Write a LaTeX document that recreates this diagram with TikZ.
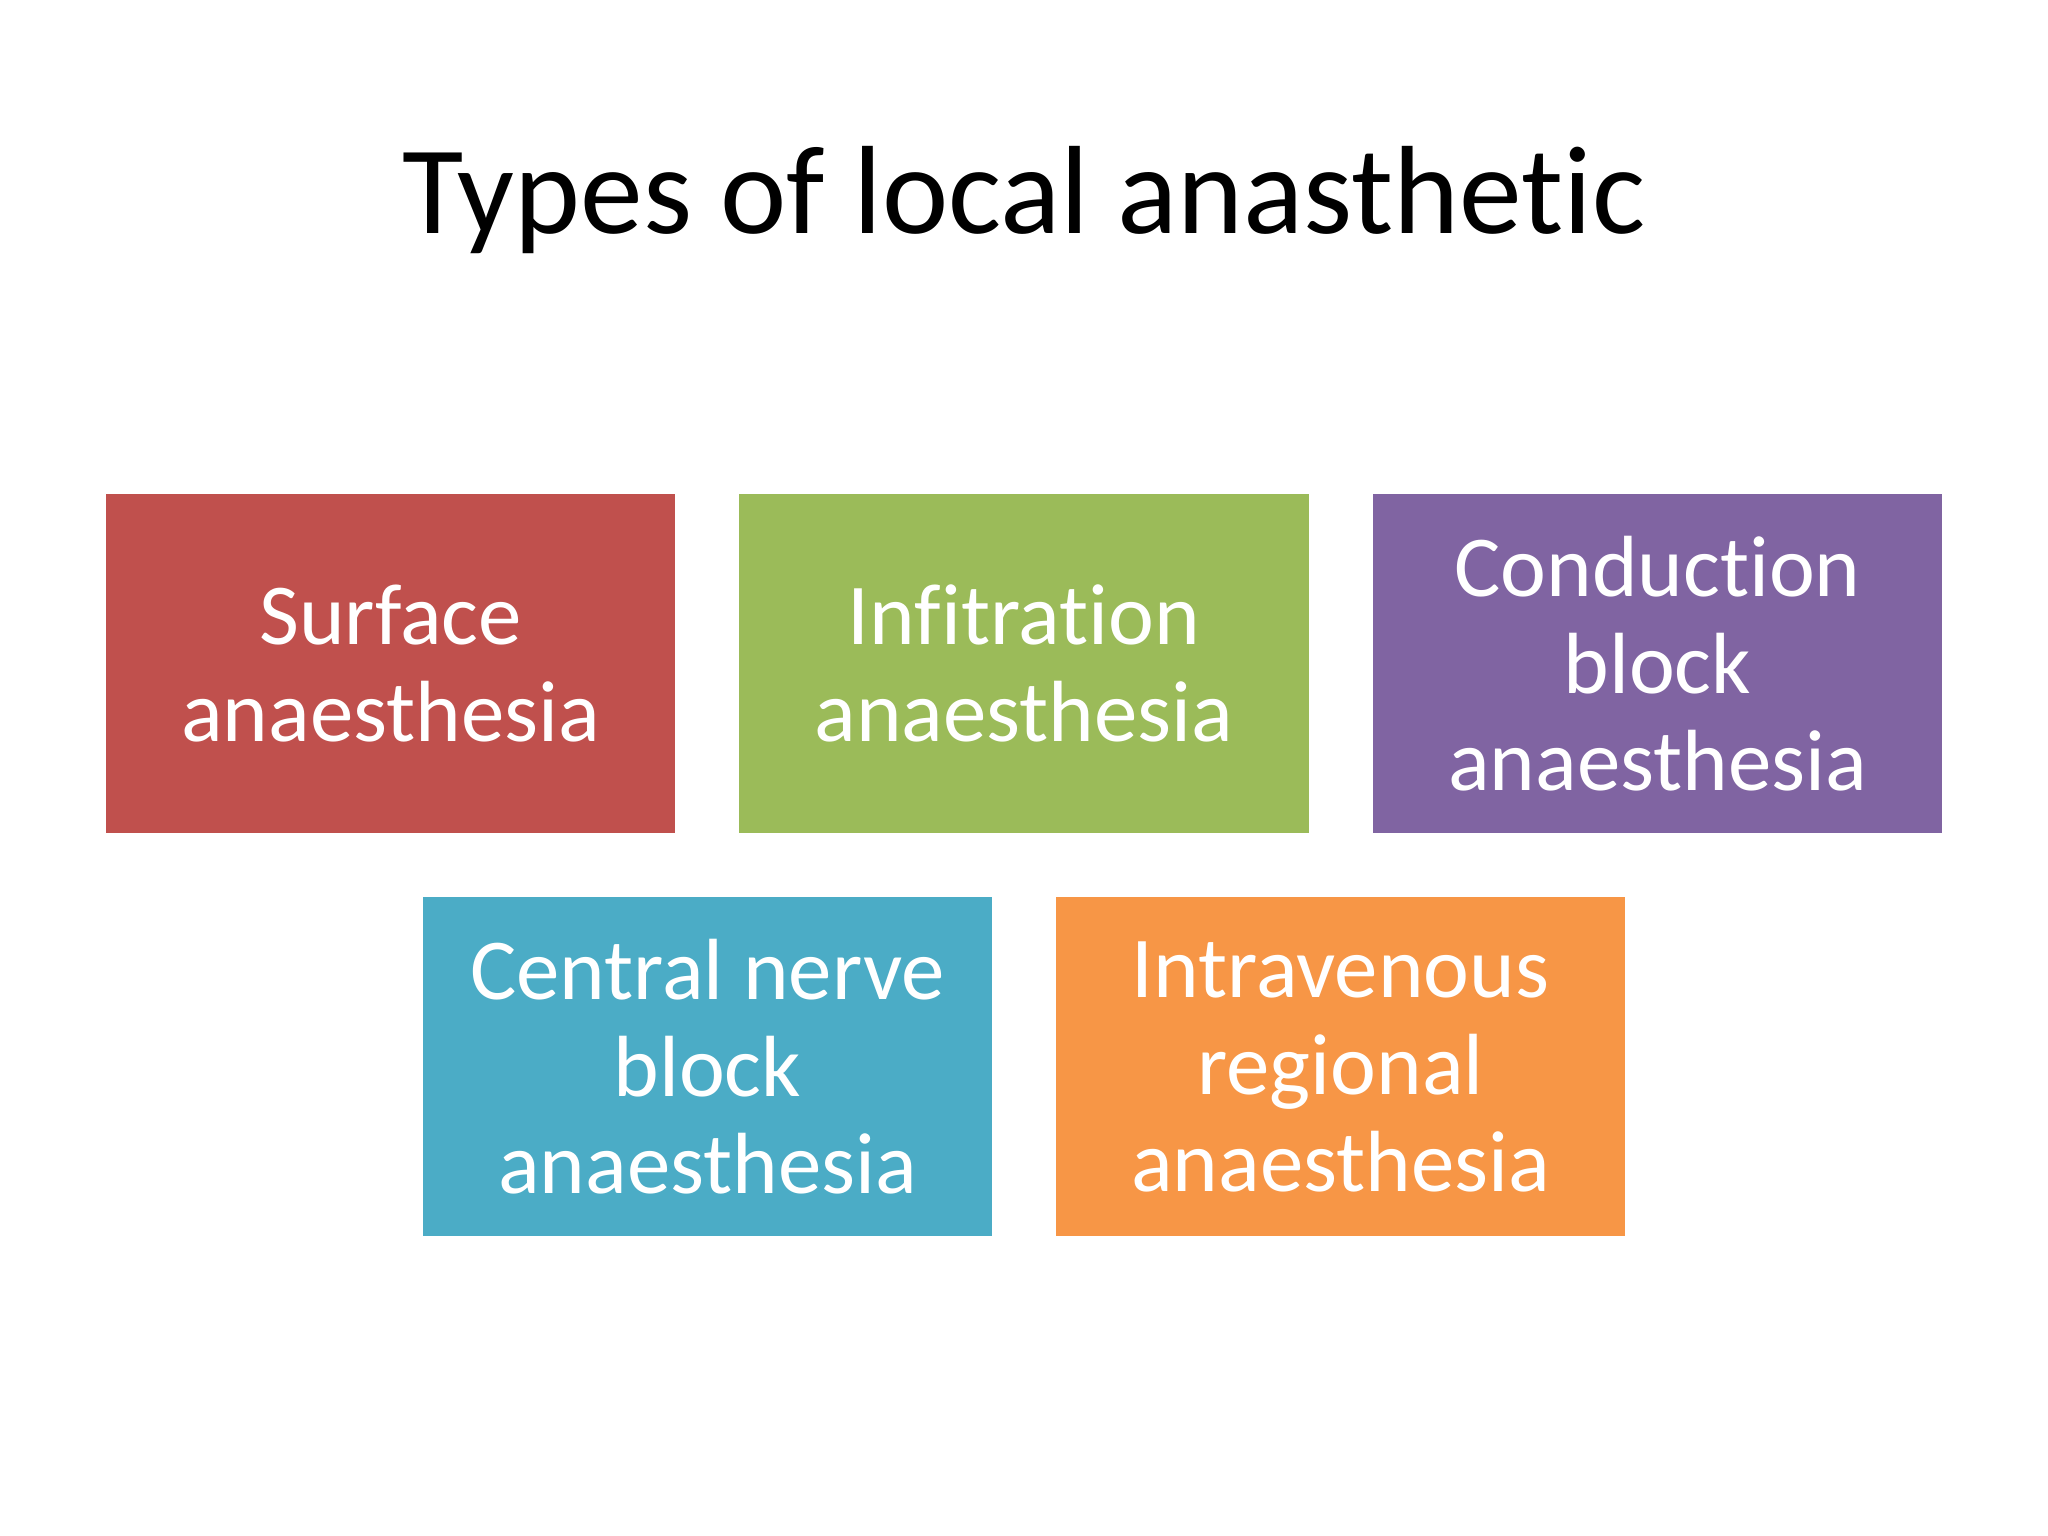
\documentclass[tikz,border=0pt]{standalone}
\usepackage{fontspec}
\setmainfont{Carlito}[Ligatures=NoCommon]
\definecolor{surfred}{RGB}{192,80,77}
\definecolor{infgreen}{RGB}{155,187,89}
\definecolor{condpurple}{RGB}{128,100,162}
\definecolor{centblue}{RGB}{75,172,198}
\definecolor{ivorange}{RGB}{247,150,70}
\begin{document}
\begin{tikzpicture}[x=0.01cm,y=-0.01cm,
		box/.style={minimum width=5.69cm,minimum height=3.39cm,inner sep=0pt,align=center,text=white,font=\fontsize{24.7}{27.6}\selectfont},
		title/.style={anchor=base,font=\fontsize{35.7}{40}\selectfont}]
	\useasboundingbox[fill=white] (0,0) rectangle (2048,1536);
	\node[title] (head) at (1024,233) {Types of local anasthetic};
	\node[box,fill=surfred] (surf) at (390.5,663.5) {Surface\\anaesthesia};
	\node[box,fill=infgreen] (infil) at (1024,663.5) {Infitration\\anaesthesia};
	\node[box,fill=condpurple] (cond) at (1657.5,663.5) {Conduction\\block\\anaesthesia};
	\node[box,fill=centblue] (cent) at (707.5,1066.5) {Central nerve\\block\\anaesthesia};
	\node[box,fill=ivorange] (ivra) at (1340.5,1066.5) {Intravenous\\regional\\anaesthesia};
\end{tikzpicture}
\end{document}
